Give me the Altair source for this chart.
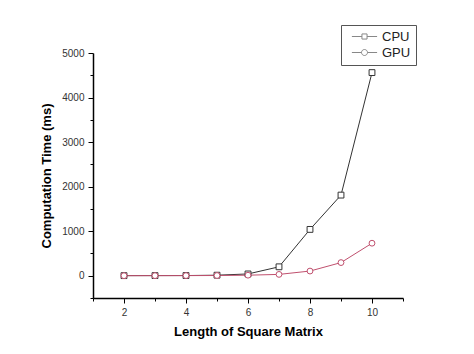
import altair as alt
import pandas as pd

sizes = [2, 3, 4, 5, 6, 7, 8, 9, 10]
cpu_ms = [2, 3, 4, 12, 40, 200, 1040, 1810, 4560]
gpu_ms = [1, 2, 3, 5, 12, 30, 105, 295, 730]
series = ["CPU", "GPU"]
colors = ["#333333", "#c0506e"]

df = pd.DataFrame({
    "n": sizes * 2,
    "ms": cpu_ms + gpu_ms,
    "series": ["CPU"] * len(sizes) + ["GPU"] * len(sizes),
})

x = alt.X("n:Q", scale=alt.Scale(domain=[1, 11], nice=False, zero=False),
          axis=alt.Axis(title="Length of Square Matrix", values=[1, 2, 3, 4, 5, 6, 7, 8, 9, 10, 11],
                        labelExpr="datum.value % 2 == 0 ? datum.label : ''",
                        tickSize={"condition": {"test": "datum.value % 2 != 0", "value": 3}, "value": 5},
                        grid=False, domainColor="#000", tickColor="#000", domainWidth=1.5,
                        labelColor="#333", labelFontSize=10, labelPadding=4,
                        titleFontSize=13, titleFontWeight="bold", titlePadding=8,
                        titleFont="Liberation Sans", labelFont="Liberation Sans"))
y = alt.Y("ms:Q", scale=alt.Scale(domain=[-500, 5000], nice=False, zero=False),
          axis=alt.Axis(title="Computation Time (ms)",
                        values=[-500, 0, 500, 1000, 1500, 2000, 2500, 3000, 3500, 4000, 4500, 5000],
                        labelExpr="datum.value % 1000 == 0 ? datum.label : ''",
                        tickSize={"condition": {"test": "datum.value % 1000 != 0", "value": 3}, "value": 5},
                        format="d",
                        grid=False, domainColor="#000", tickColor="#000", domainWidth=1.5,
                        labelColor="#333", labelFontSize=10, labelPadding=4,
                        titleFontSize=13, titleFontWeight="bold", titlePadding=8,
                        titleFont="Liberation Sans", labelFont="Liberation Sans"))
color = alt.Color("series:N", scale=alt.Scale(domain=series, range=colors), legend=None)

lines = alt.Chart(df).mark_line(strokeWidth=1).encode(x=x, y=y, color=color, detail="series:N")
points = alt.Chart(df).mark_point(filled=False, fill="white", size=34, strokeWidth=1, opacity=1).encode(
    x=x, y=y, color=color,
    shape=alt.Shape("series:N", scale=alt.Scale(domain=series, range=["square", "circle"]), legend=None))

sq_path = "M-4.2,0H-0.85M0.85,0H4.2M-0.85,-0.85H0.85V0.85H-0.85Z"
ci_path = "M-4.2,0H-1M1,0H4.2M-1,0A1,1 0 1,0 1,0A1,1 0 1,0 -1,0Z"
legend_layer = alt.Chart(df).mark_point(filled=False, opacity=0, size=36).encode(
    x=x, y=y,
    color=alt.Color("series:N", scale=alt.Scale(domain=series, range=colors),
                    legend=alt.Legend(title=None)),
    shape=alt.Shape("series:N", scale=alt.Scale(domain=series, range=[sq_path, ci_path]),
                    legend=alt.Legend(title=None)),
)

chart = alt.layer(lines, points, legend_layer).resolve_scale(shape="independent").properties(
    width=310, height=245,
    autosize=alt.AutoSizeParams(type="none"),
    padding={"left": 93, "top": 53, "right": 71, "bottom": 56},
).configure_view(stroke=None).configure_legend(
    orient="none", legendX=248, legendY=-28,
    strokeColor="#555", fillColor="white", padding=5, cornerRadius=0,
    symbolOpacity=1, symbolSize=36, symbolStrokeWidth=1, symbolOffset=12,
    labelOffset=11, labelFontSize=13, labelColor="#222", labelFont="Liberation Sans",
    rowPadding=2,
)

chart.save("out.html", embed_options={"renderer": "svg", "actions": False})
